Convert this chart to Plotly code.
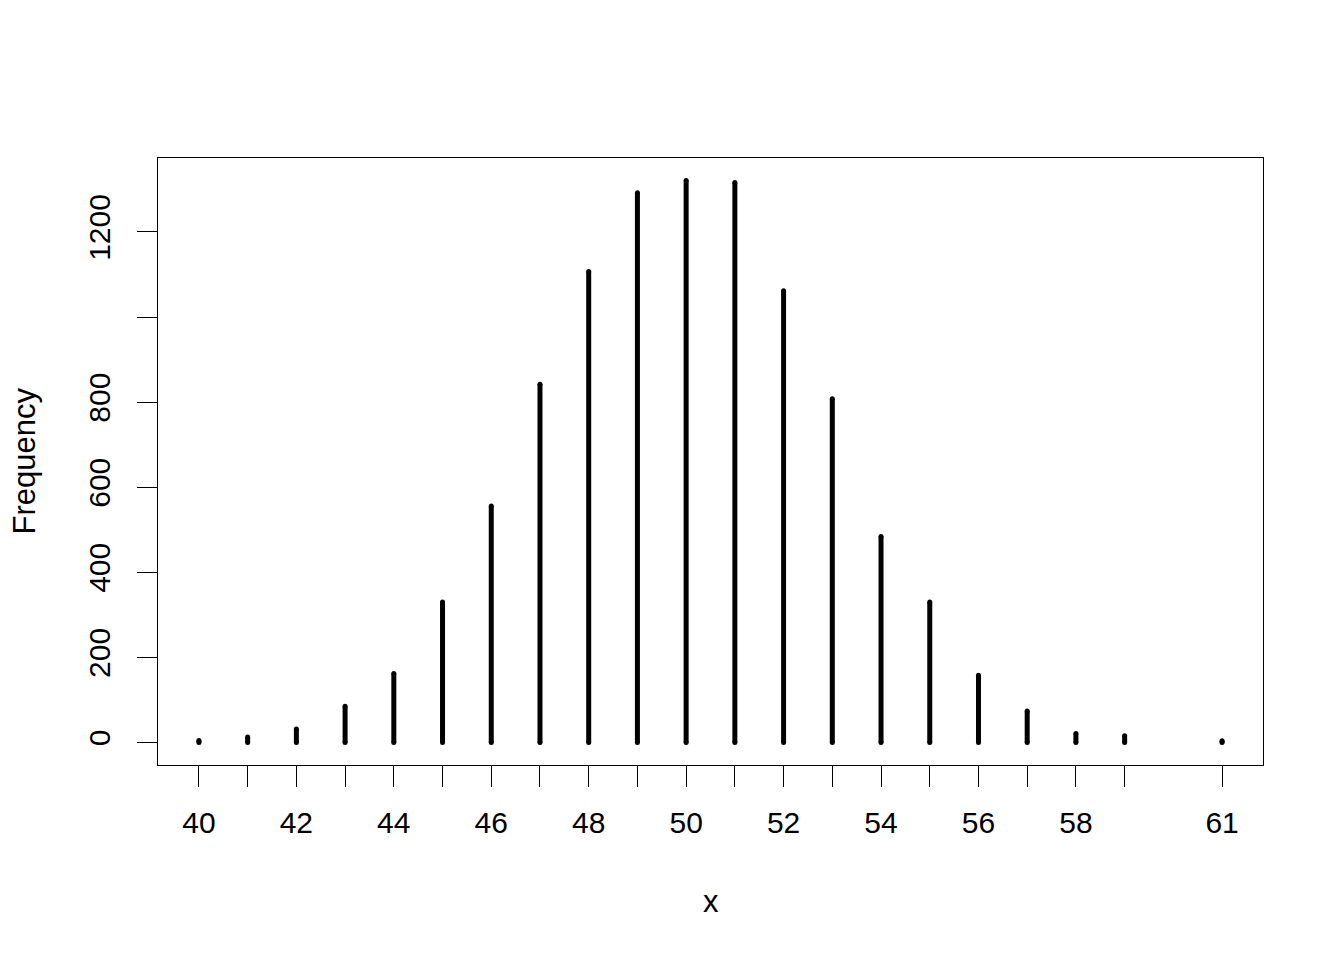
import plotly.graph_objects as go

values_x = [40, 41, 42, 43, 44, 45, 46, 47, 48, 49, 50, 51, 52, 53, 54, 55, 56, 57, 58, 59, 61]
frequency = [5, 13, 32, 85, 162, 330, 556, 842, 1107, 1292, 1321, 1316, 1062, 808, 484, 330, 158, 74, 21, 16, 4]
x_tick_vals = values_x
x_tick_text = ["40", "", "42", "", "44", "", "46", "", "48", "", "50", "", "52", "", "54", "", "56", "", "58", "", "61"]
y_tick_vals = [0, 200, 400, 600, 800, 1000, 1200]
y_tick_text = ["0", "200", "400", "600", "800", "", "1200"]

FONT = "Liberation Sans, Arial, Helvetica, sans-serif"
TICK_SIZE = 30
TITLE_SIZE = 31

lx, ly = [], []
for xv, fv in zip(values_x, frequency):
    lx += [xv, xv, None]
    ly += [0, fv, None]

fig = go.Figure()
fig.add_trace(go.Scatter(x=lx, y=ly, mode="lines", line=dict(color="black", width=5),
                         hoverinfo="skip", showlegend=False))
cx = values_x + values_x
cy = [0] * len(values_x) + frequency
fig.add_trace(go.Scatter(x=cx, y=cy, mode="markers",
                         marker=dict(color="black", size=5, line=dict(width=0)),
                         hoverinfo="skip", showlegend=False))

xmin, xmax = min(values_x), max(values_x)
xpad = (xmax - xmin) * 0.04
ymax = max(frequency)
ypad = ymax * 0.04

fig.update_layout(
    width=1344, height=960,
    margin=dict(l=150, r=89, t=150, b=203),
    paper_bgcolor="white", plot_bgcolor="white",
    font=dict(family=FONT, size=TICK_SIZE, color="black"),
    xaxis=dict(range=[xmin - xpad, xmax + xpad], tickvals=x_tick_vals, ticktext=x_tick_text,
               ticks="outside", ticklen=21, tickwidth=1, tickcolor="black",
               showline=True, linecolor="black", linewidth=1, mirror=True,
               showgrid=False, zeroline=False, ticklabelstandoff=10,
               tickfont=dict(family=FONT, size=TICK_SIZE, color="black")),
    yaxis=dict(range=[-ypad, ymax + ypad], tickvals=y_tick_vals, ticktext=y_tick_text,
               ticks="outside", ticklen=20, tickwidth=1, tickcolor="black",
               showline=True, linecolor="black", linewidth=1, mirror=True,
               showgrid=False, zeroline=False, tickangle=-90, ticklabelstandoff=15,
               tickfont=dict(family=FONT, size=TICK_SIZE, color="black")),
    annotations=[
        dict(text="x", xref="paper", yref="paper", x=0.5, y=0, yshift=-136,
             showarrow=False, font=dict(family=FONT, size=TITLE_SIZE, color="black"),
             xanchor="center", yanchor="middle"),
        dict(text="Frequency", xref="paper", yref="paper", x=0, y=0.5, xshift=-134,
             showarrow=False, textangle=-90, font=dict(family=FONT, size=TITLE_SIZE, color="black"),
             xanchor="center", yanchor="middle"),
    ],
)

fig.write_html("out.html")
